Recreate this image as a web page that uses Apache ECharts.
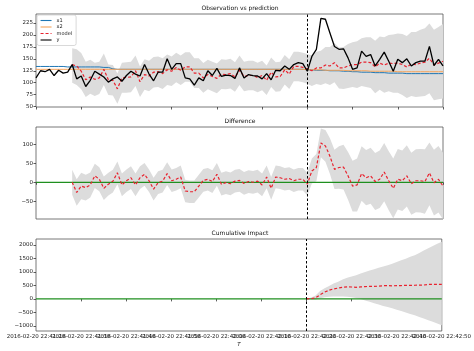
<!DOCTYPE html>
<html>
<head>
<meta charset="utf-8">
<script src="https://cdn.jsdelivr.net/npm/echarts@6/dist/echarts.min.js"></script>
<style>
  html, body { margin: 0; padding: 0; background: #fff; }
  #chart { width: 474px; height: 351px; }
</style>
</head>
<body>
<div id="chart"></div>
<script>
// one point per second, 22:41:20 .. 22:42:50
var PRED_START = 8;   // first index with a prediction
var POST_START = 60;  // intervention (22:42:20)

var TICK_POS = [0, 10, 20, 30, 40, 50, 60, 70, 80, 90];
var TICK_LABELS = ['2016-02-20 22:41:20', '2016-02-20 22:41:30', '2016-02-20 22:41:40', '2016-02-20 22:41:50',
  '2016-02-20 22:42:00', '2016-02-20 22:42:10', '2016-02-20 22:42:20', '2016-02-20 22:42:30',
  '2016-02-20 22:42:40', '2016-02-20 22:42:50'];
var OBS_TICKS = [50, 75, 100, 125, 150, 175, 200, 225];
var DIFF_TICKS = [-50, 0, 50, 100];
var CUM_TICKS = [-1000, -500, 0, 500, 1000, 1500, 2000];

// observed y (index 0..90)
var Y_OBS = [110, 125, 123, 128, 115, 126, 120, 122, 138, 108,
  114, 92, 105, 124, 118, 112, 101, 108, 112, 103,
  115, 124, 118, 114, 138, 118, 104, 122, 122, 150,
  128, 140, 140, 110, 108, 95, 110, 104, 125, 115,
  130, 113, 116, 115, 109, 131, 110, 117, 115, 114,
  108, 119, 106, 126, 125, 135, 128, 138, 142, 140,
  124, 155, 170, 235, 233, 204, 176, 170, 171, 152,
  128, 131, 166, 155, 159, 135, 149, 164, 145, 124,
  149, 142, 150, 135, 142, 145, 145, 176, 136, 149,
  135];

var X1 = [134, 134, 134, 134, 134, 134, 134, 133, 133, 133,
  133, 133, 133, 133, 133, 132, 132, 129, 128, 128,
  128, 128, 128, 128, 128, 128, 128, 128, 128, 128,
  128, 128, 128, 128, 128, 128, 128, 128, 128, 128,
  128, 128, 128, 128, 128, 128, 128, 128, 128, 128,
  128, 128, 128, 128, 128, 128, 128, 128, 128, 128,
  127, 127, 126, 126, 126, 125, 125, 125, 124, 124,
  123, 123, 122, 122, 122, 121, 121, 121, 120, 120,
  120, 120, 119, 119, 119, 119, 119, 119, 119, 119,
  119];

var X2 = [128, 128, 128, 128, 128, 128, 128, 128, 128, 128,
  128, 128, 128, 128, 128, 128, 128, 128, 128, 128,
  128, 128, 128, 128, 128, 128, 128, 128, 128, 128,
  128, 128, 128, 128, 128, 128, 128, 128, 128, 128,
  128, 128, 128, 128, 128, 128, 128, 128, 128, 128,
  128, 128, 128, 128, 128, 128, 128, 128, 128, 128,
  127, 127, 127, 127, 126, 126, 126, 126, 126, 125,
  125, 125, 125, 125, 124, 124, 124, 124, 124, 124,
  123, 123, 123, 123, 123, 123, 123, 123, 123, 123,
  123];

// prediction (index 8..90)
var MODEL = [138, 135, 124, 106, 112, 107, 110, 128, 106, 105,
  87, 110, 111, 112, 125, 102, 117, 114, 122, 123,
  119, 127, 124, 132, 126, 133, 133, 120, 120, 110,
  117, 113, 109, 118, 117, 119, 112, 126, 113, 115,
  115, 111, 115, 105, 122, 112, 113, 127, 118, 134,
  134, 132, 129, 125, 131, 131, 137, 135, 142, 131,
  131, 135, 138, 138, 143, 143, 142, 133, 141, 137,
  141, 140, 141, 138, 133, 139, 138, 141, 143, 151,
  137, 141, 145];
var MODEL_LO = [100, 95, 86, 70, 77, 72, 76, 95, 74, 73,
  56, 79, 79, 80, 93, 70, 85, 82, 90, 91,
  87, 95, 93, 101, 95, 102, 102, 89, 89, 79,
  86, 82, 78, 87, 86, 88, 81, 95, 82, 84,
  84, 80, 84, 74, 91, 81, 82, 96, 87, 103,
  103, 101, 98, 93, 97, 95, 99, 95, 101, 88,
  87, 89, 91, 89, 93, 91, 89, 78, 85, 79,
  82, 79, 79, 74, 68, 72, 70, 71, 72, 78,
  63, 65, 67];
var MODEL_HI = [172, 170, 162, 144, 148, 142, 144, 161, 138, 137,
  119, 142, 143, 144, 157, 134, 149, 146, 154, 155,
  151, 159, 155, 163, 157, 164, 164, 151, 151, 141,
  148, 144, 140, 149, 148, 150, 143, 157, 144, 146,
  146, 142, 146, 136, 153, 143, 144, 158, 149, 165,
  165, 163, 160, 157, 165, 167, 175, 175, 183, 174,
  175, 181, 185, 187, 193, 195, 195, 188, 197, 195,
  200, 201, 203, 202, 198, 206, 206, 211, 214, 224,
  211, 217, 223];

// difference y - prediction (index 8..90)
var DIFF = [0, -27, -10, -14, -7, 17, 8, -16, -5, 3,
  25, -7, 4, 12, -7, 12, 21, 4, -18, -1,
  3, 23, 4, 8, 14, -23, -25, -25, -10, 5,
  8, 2, 21, -5, -1, -4, 3, 5, -3, 2,
  0, 3, -7, 14, -16, 14, 12, 8, 10, 4,
  8, 8, -5, 30, 39, 104, 96, 69, 34, 39,
  40, 17, -10, -7, 23, 12, 17, 2, 8, 27,
  4, -16, 8, 4, 17, -4, 4, 4, 2, 25,
  -1, 8, -10];
var DIFF_LO = [-33, -62, -45, -48, -40, -15, -24, -47, -35, -27,
  -5, -37, -26, -18, -37, -18, -9, -26, -48, -31,
  -27, -7, -26, -22, -16, -53, -55, -55, -40, -25,
  -22, -28, -9, -35, -31, -34, -27, -25, -33, -28,
  -30, -27, -37, -16, -46, -16, -18, -22, -20, -26,
  -22, -22, -35, -3, 3, 66, 54, 22, -18, -17,
  -19, -46, -77, -77, -49, -61, -57, -73, -68, -50,
  -74, -95, -72, -76, -64, -86, -79, -80, -83, -61,
  -88, -80, -98];
var DIFF_HI = [33, 8, 25, 20, 26, 49, 40, 15, 25, 33,
  55, 23, 34, 42, 23, 42, 51, 34, 12, 29,
  33, 53, 34, 38, 44, 7, 5, 5, 20, 35,
  38, 32, 51, 25, 29, 26, 33, 35, 27, 32,
  30, 33, 23, 44, 14, 44, 42, 38, 40, 34,
  38, 38, 25, 63, 75, 142, 138, 116, 86, 95,
  99, 80, 57, 63, 95, 85, 91, 77, 84, 104,
  82, 63, 88, 84, 98, 78, 87, 88, 87, 105,
  86, 96, 78];

// cumulative impact (index 60..90)
var CUM = [0, 10, 40, 150, 250, 320, 370, 400, 430, 445,
  440, 430, 445, 455, 465, 465, 470, 490, 495, 485,
  490, 495, 505, 500, 505, 510, 515, 535, 535, 540,
  540];
var CUM_LO = [0, -20, -30, 20, 60, 80, 90, 90, 90, 80,
  60, 30, 0, -60, -110, -160, -210, -260, -300, -350,
  -400, -450, -500, -560, -610, -670, -730, -790, -850, -910,
  -975];
var CUM_HI = [0, 50, 130, 290, 390, 480, 570, 640, 720, 780,
  830, 880, 940, 1000, 1050, 1100, 1150, 1200, 1245, 1300,
  1370, 1430, 1490, 1560, 1620, 1700, 1790, 1880, 1960, 2040,
  2120];

var FONT = 'DejaVu Sans';
var grids = [
  { left: 36, right: 31, top: 14, height: 93 },
  { left: 36, right: 31, top: 127, height: 92 },
  { left: 36, right: 31, top: 239, height: 92 }
];

function pairs(arr, start) {
  return arr.map(function (v, k) { return [start + k, v]; });
}
function fmtNum(v) {
  return v < 0 ? '\u2212' + Math.abs(v) : String(v);
}
function fmtTime(v) {
  return TICK_LABELS[TICK_POS.indexOf(Math.round(v))];
}
var xLabelStyle = { fontSize: 5.5, color: '#222', fontFamily: FONT, margin: 3, hideOverlap: false, formatter: fmtTime };

function xAxisFor(i) {
  return {
    type: 'value', gridIndex: i, min: 0, max: 90, interval: 10, position: 'bottom',
    axisLine: { show: false },
    axisTick: { show: true, length: 2.5, customValues: TICK_POS, lineStyle: { color: '#333', width: 0.8 } },
    axisLabel: Object.assign({ show: i === 2, customValues: TICK_POS }, xLabelStyle),
    splitLine: { show: false },
    name: i === 2 ? 'T' : '', nameLocation: 'middle', nameGap: 11,
    nameTextStyle: { fontSize: 5.5, fontStyle: 'italic', color: '#222', fontFamily: FONT }
  };
}
// the end labels are hidden by the overlap rule on the main axis, so they sit on a twin axis
var xEnds = {
  type: 'value', gridIndex: 2, min: 0, max: 90, interval: 10, position: 'bottom', offset: 0,
  axisLine: { show: false }, axisTick: { show: false }, splitLine: { show: false },
  axisLabel: Object.assign({ customValues: [TICK_POS[0], TICK_POS[TICK_POS.length - 1]],
    showMinLabel: true, showMaxLabel: true }, xLabelStyle)
};
function yAxisFor(i, min, max, ticks) {
  return {
    type: 'value', gridIndex: i, min: min, max: max,
    axisLine: { show: false },
    axisTick: { show: true, length: 2.5, customValues: ticks, lineStyle: { color: '#333', width: 0.8 } },
    axisLabel: { fontSize: 5.5, color: '#222', fontFamily: FONT, margin: 3, customValues: ticks, formatter: fmtNum },
    splitLine: { show: false }
  };
}

var vline = {
  silent: true, symbol: ['none', 'none'], label: { show: false },
  lineStyle: { color: '#000', type: [2.5, 2], width: 1 },
  data: [{ xAxis: POST_START }]
};
var noSym = { symbol: 'none', showSymbol: false };

// grey interval drawn as one polygon through the axis scales
function band(grid, lo, hi, start) {
  var pts = lo.map(function (v, k) { return [start + k, v, hi[k]]; });
  return {
    type: 'custom', xAxisIndex: grid, yAxisIndex: grid, data: pts, clip: true, silent: true, z: 1,
    encode: { x: 0, y: [1, 2] },
    renderItem: function (params, api) {
      if (params.dataIndex !== 0) return null;
      var poly = [];
      for (var k = 0; k < pts.length; k++) poly.push(api.coord([pts[k][0], pts[k][2]]));
      for (var j = pts.length - 1; j >= 0; j--) poly.push(api.coord([pts[j][0], pts[j][1]]));
      return { type: 'polygon', shape: { points: poly }, style: { fill: '#dcdcdc' } };
    }
  };
}

var chart = echarts.init(document.getElementById('chart'), null, { renderer: 'canvas' });
var series = [];
series.push(band(0, MODEL_LO, MODEL_HI, PRED_START));
series.push(Object.assign({ type: 'line', name: 'x1', xAxisIndex: 0, yAxisIndex: 0, data: pairs(X1, 0),
  lineStyle: { color: '#1f77b4', width: 1 }, itemStyle: { color: '#1f77b4' }, z: 2 }, noSym));
series.push(Object.assign({ type: 'line', name: 'x2', xAxisIndex: 0, yAxisIndex: 0, data: pairs(X2, 0),
  lineStyle: { color: '#f5a45c', width: 1 }, itemStyle: { color: '#f5a45c' }, z: 3 }, noSym));
series.push(Object.assign({ type: 'line', name: 'model', xAxisIndex: 0, yAxisIndex: 0, data: pairs(MODEL, PRED_START),
  lineStyle: { color: '#e8222e', width: 1.2, type: [3, 2] }, itemStyle: { color: '#e8222e' }, z: 4 }, noSym));
series.push(Object.assign({ type: 'line', name: 'y', xAxisIndex: 0, yAxisIndex: 0, data: pairs(Y_OBS, 0),
  lineStyle: { color: '#000', width: 1.3 }, itemStyle: { color: '#000' }, z: 5, markLine: vline }, noSym));

series.push(band(1, DIFF_LO, DIFF_HI, PRED_START));
series.push(Object.assign({ type: 'line', name: 'zero1', xAxisIndex: 1, yAxisIndex: 1, data: [[0, 0], [90, 0]],
  lineStyle: { color: '#1f8f1f', width: 1.2 }, z: 3, markLine: vline }, noSym));
series.push(Object.assign({ type: 'line', name: 'diff', xAxisIndex: 1, yAxisIndex: 1, data: pairs(DIFF, PRED_START),
  lineStyle: { color: '#e8222e', width: 1.2, type: [3, 2] }, z: 4 }, noSym));

series.push(band(2, CUM_LO, CUM_HI, POST_START));
series.push(Object.assign({ type: 'line', name: 'zero2', xAxisIndex: 2, yAxisIndex: 2, data: [[0, 0], [90, 0]],
  lineStyle: { color: '#1f8f1f', width: 1.2 }, z: 3, markLine: vline }, noSym));
series.push(Object.assign({ type: 'line', name: 'cum', xAxisIndex: 2, yAxisIndex: 2, data: pairs(CUM, POST_START),
  lineStyle: { color: '#e8222e', width: 1.2, type: [3, 2] }, z: 4 }, noSym));

var titleStyle = { fill: '#111', fontSize: 6, fontFamily: FONT, textAlign: 'center', textVerticalAlign: 'middle' };
chart.setOption({
  animation: false,
  backgroundColor: '#fff',
  grid: grids.map(function (g) {
    return Object.assign({ show: true, borderColor: '#555', borderWidth: 0.8, backgroundColor: 'transparent' }, g);
  }),
  xAxis: [xAxisFor(0), xAxisFor(1), xAxisFor(2), xEnds],
  yAxis: [
    yAxisFor(0, 49, 244, OBS_TICKS),
    yAxisFor(1, -97, 146, DIFF_TICKS),
    yAxisFor(2, -1190, 2220, CUM_TICKS)
  ],
  legend: {
    data: ['x1', 'x2', 'model', 'y'],
    orient: 'vertical', left: 37, top: 15,
    itemWidth: 11, itemHeight: 6, itemGap: 1.5,
    padding: [3, 4, 3, 3],
    borderColor: '#cfcfcf', borderWidth: 0.8, borderRadius: 2,
    backgroundColor: 'rgba(255,255,255,0.8)',
    itemStyle: { opacity: 0 },
    lineStyle: { width: 1.1 },
    textStyle: { fontSize: 5, color: '#222', fontFamily: FONT }
  },
  graphic: [
    { type: 'text', x: 240, y: 8, style: Object.assign({ text: 'Observation vs prediction' }, titleStyle) },
    { type: 'text', x: 240, y: 121, style: Object.assign({ text: 'Difference' }, titleStyle) },
    { type: 'text', x: 240, y: 233.5, style: Object.assign({ text: 'Cumulative Impact' }, titleStyle) }
  ],
  series: series
});
window.addEventListener('resize', function () {
  chart.resize();
});
</script>
</body>
</html>
